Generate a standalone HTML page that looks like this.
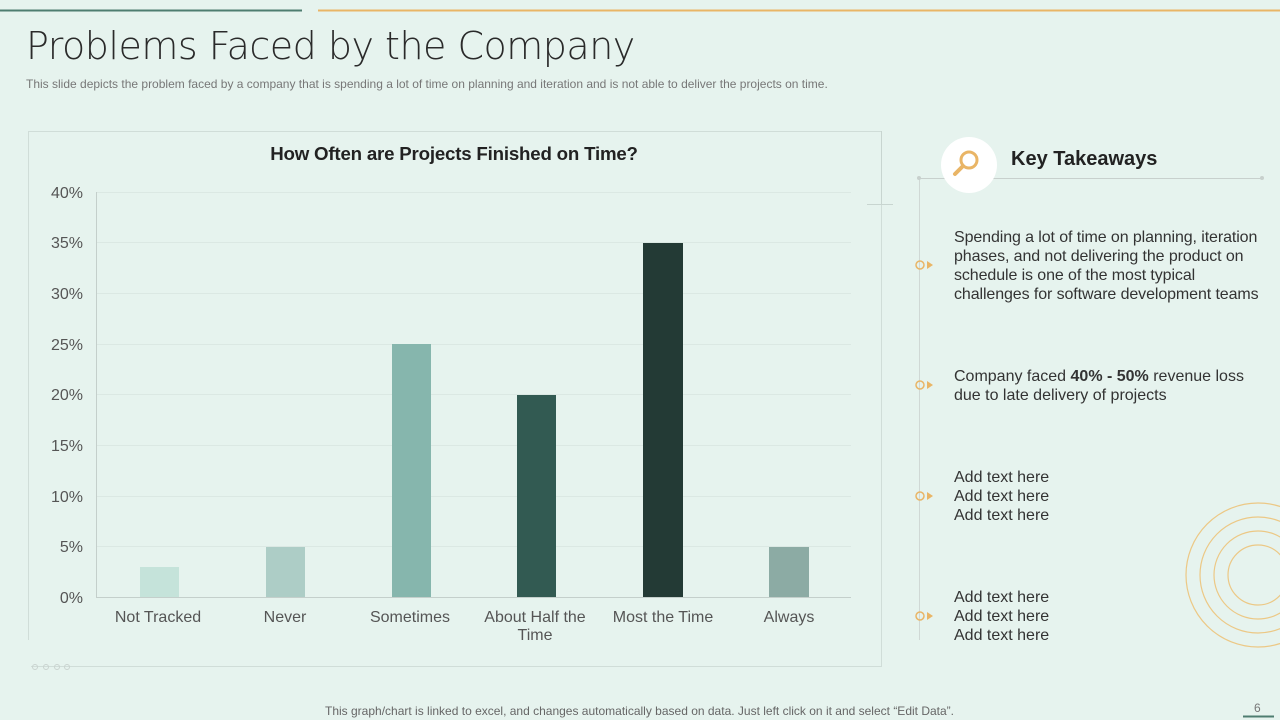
<!DOCTYPE html>
<html><head><meta charset="utf-8"><style>
body{margin:0;width:1280px;height:720px;background:#e6f3ee;font-family:"Liberation Sans",sans-serif;overflow:hidden;position:relative}
.a{position:absolute;white-space:nowrap}
</style></head><body>
<svg width="1280" height="720" style="position:absolute;left:0;top:0">
<line x1="0" y1="10.5" x2="302" y2="10.5" stroke="#4e7d70" stroke-width="2"/>
<line x1="318" y1="10.5" x2="1280" y2="10.5" stroke="#e9b566" stroke-width="2"/>
<rect x="28.5" y="131.5" width="853" height="535" fill="none" stroke="#d0ddd8"/>
<rect x="27" y="640" width="4" height="30" fill="#e6f3ee"/>
<line x1="881.5" y1="131" x2="881.5" y2="204" stroke="#c8d5d0"/>
<line x1="867" y1="204.5" x2="893" y2="204.5" stroke="#c8d5d0"/>
<g fill="none" stroke="#c9d3cf" stroke-width="1">
<circle cx="35" cy="667" r="2.5"/><circle cx="46" cy="667" r="2.5"/><circle cx="57" cy="667" r="2.5"/><circle cx="67" cy="667" r="2.5"/>
</g>
<g stroke="#dbe8e3">
<line x1="96" y1="192.5" x2="851" y2="192.5"/><line x1="96" y1="242.5" x2="851" y2="242.5"/>
<line x1="96" y1="293.5" x2="851" y2="293.5"/><line x1="96" y1="344.5" x2="851" y2="344.5"/>
<line x1="96" y1="394.5" x2="851" y2="394.5"/><line x1="96" y1="445.5" x2="851" y2="445.5"/>
<line x1="96" y1="496.5" x2="851" y2="496.5"/><line x1="96" y1="546.5" x2="851" y2="546.5"/>
</g>
<line x1="96" y1="597.5" x2="851" y2="597.5" stroke="#c4cfcb"/>
<line x1="96.5" y1="192" x2="96.5" y2="597" stroke="#c4cfcb"/>
<rect x="140" y="567" width="39" height="30" fill="#c5e3da"/>
<rect x="266" y="547" width="39" height="50" fill="#adcdc6"/>
<rect x="392" y="344" width="39" height="253" fill="#86b6ad"/>
<rect x="517" y="395" width="39" height="202" fill="#325a52"/>
<rect x="643" y="243" width="40" height="354" fill="#233a35"/>
<rect x="769" y="547" width="40" height="50" fill="#8caba4"/>
<g font-family="Liberation Sans" font-size="16" fill="#555" text-anchor="end">
<text x="83" y="198">40%</text><text x="83" y="248">35%</text><text x="83" y="299">30%</text>
<text x="83" y="350">25%</text><text x="83" y="400">20%</text><text x="83" y="451">15%</text>
<text x="83" y="502">10%</text><text x="83" y="552">5%</text><text x="83" y="603">0%</text>
</g>
<g font-family="Liberation Sans" font-size="16" fill="#555" text-anchor="middle">
<text x="158" y="622">Not Tracked</text><text x="285" y="622">Never</text><text x="410" y="622">Sometimes</text>
<text x="535" y="622">About Half the</text><text x="535" y="640">Time</text>
<text x="663" y="622">Most the Time</text><text x="789" y="622">Always</text>
</g>
<text x="454" y="160" font-family="Liberation Sans" font-size="18.7" font-weight="bold" fill="#222" text-anchor="middle" letter-spacing="-0.2">How Often are Projects Finished on Time?</text>
<line x1="919.5" y1="178" x2="919.5" y2="640" stroke="#d0d8d5"/>
<line x1="919" y1="178.5" x2="1262" y2="178.5" stroke="#c8d0cd"/>
<circle cx="919" cy="178" r="2" fill="#c8d0cd"/><circle cx="1262" cy="178" r="2" fill="#c8d0cd"/>
<circle cx="969" cy="165" r="28" fill="#fff"/>
<circle cx="969" cy="160" r="8" fill="none" stroke="#e9b566" stroke-width="3"/>
<line x1="963" y1="166" x2="955" y2="174" stroke="#e9b566" stroke-width="4" stroke-linecap="round"/>
<g fill="none" stroke="#e9b566" stroke-width="1.5">
<circle cx="920" cy="265" r="4"/><circle cx="920" cy="385" r="4"/><circle cx="920" cy="496" r="4"/><circle cx="920" cy="616" r="4"/>
</g>
<g fill="#e9b566">
<path d="M927 261l6 4-6 4z"/><path d="M927 381l6 4-6 4z"/><path d="M927 492l6 4-6 4z"/><path d="M927 612l6 4-6 4z"/>
</g>
<g fill="none" stroke="#ecc885" stroke-width="1.2">
<circle cx="1258" cy="575" r="72"/><circle cx="1258" cy="575" r="58"/><circle cx="1258" cy="575" r="44"/><circle cx="1258" cy="575" r="30"/>
</g>
<line x1="1243" y1="716.5" x2="1274" y2="716.5" stroke="#4e7d70" stroke-width="2"/>
</svg>
<div class="a" style="left:26px;top:24px;font-size:38px;color:#2a2a2a;font-family:'DejaVu Sans',sans-serif;font-weight:300;letter-spacing:-0.5px">Problems Faced by the Company</div>
<div class="a" style="left:26px;top:77px;font-size:12px;color:#777">This slide depicts the problem faced by a company that is spending a lot of time on planning and iteration and is not able to deliver the projects on time.</div>
<div class="a" style="left:1011px;top:148px;font-size:20px;font-weight:bold;color:#222">Key Takeaways</div>
<div class="a" style="left:954px;top:228px;font-size:16px;line-height:19px;color:#333;letter-spacing:-0.1px">Spending a lot of time on planning, iteration<br>phases, and not delivering the product on<br>schedule is one of the most typical<br>challenges for software development teams</div>
<div class="a" style="left:954px;top:367px;font-size:16px;line-height:19px;color:#333">Company faced <b>40% - 50%</b> revenue loss<br>due to late delivery of projects</div>
<div class="a" style="left:954px;top:468px;font-size:16px;line-height:19px;color:#333">Add text here<br>Add text here<br>Add text here</div>
<div class="a" style="left:954px;top:588px;font-size:16px;line-height:19px;color:#333">Add text here<br>Add text here<br>Add text here</div>
<div class="a" style="left:325px;top:704px;font-size:12px;color:#666">This graph/chart is linked to excel, and changes automatically based on data. Just left click on it and select “Edit Data”.</div>
<div class="a" style="left:1254px;top:701px;font-size:12px;color:#777">6</div>
</body></html>
